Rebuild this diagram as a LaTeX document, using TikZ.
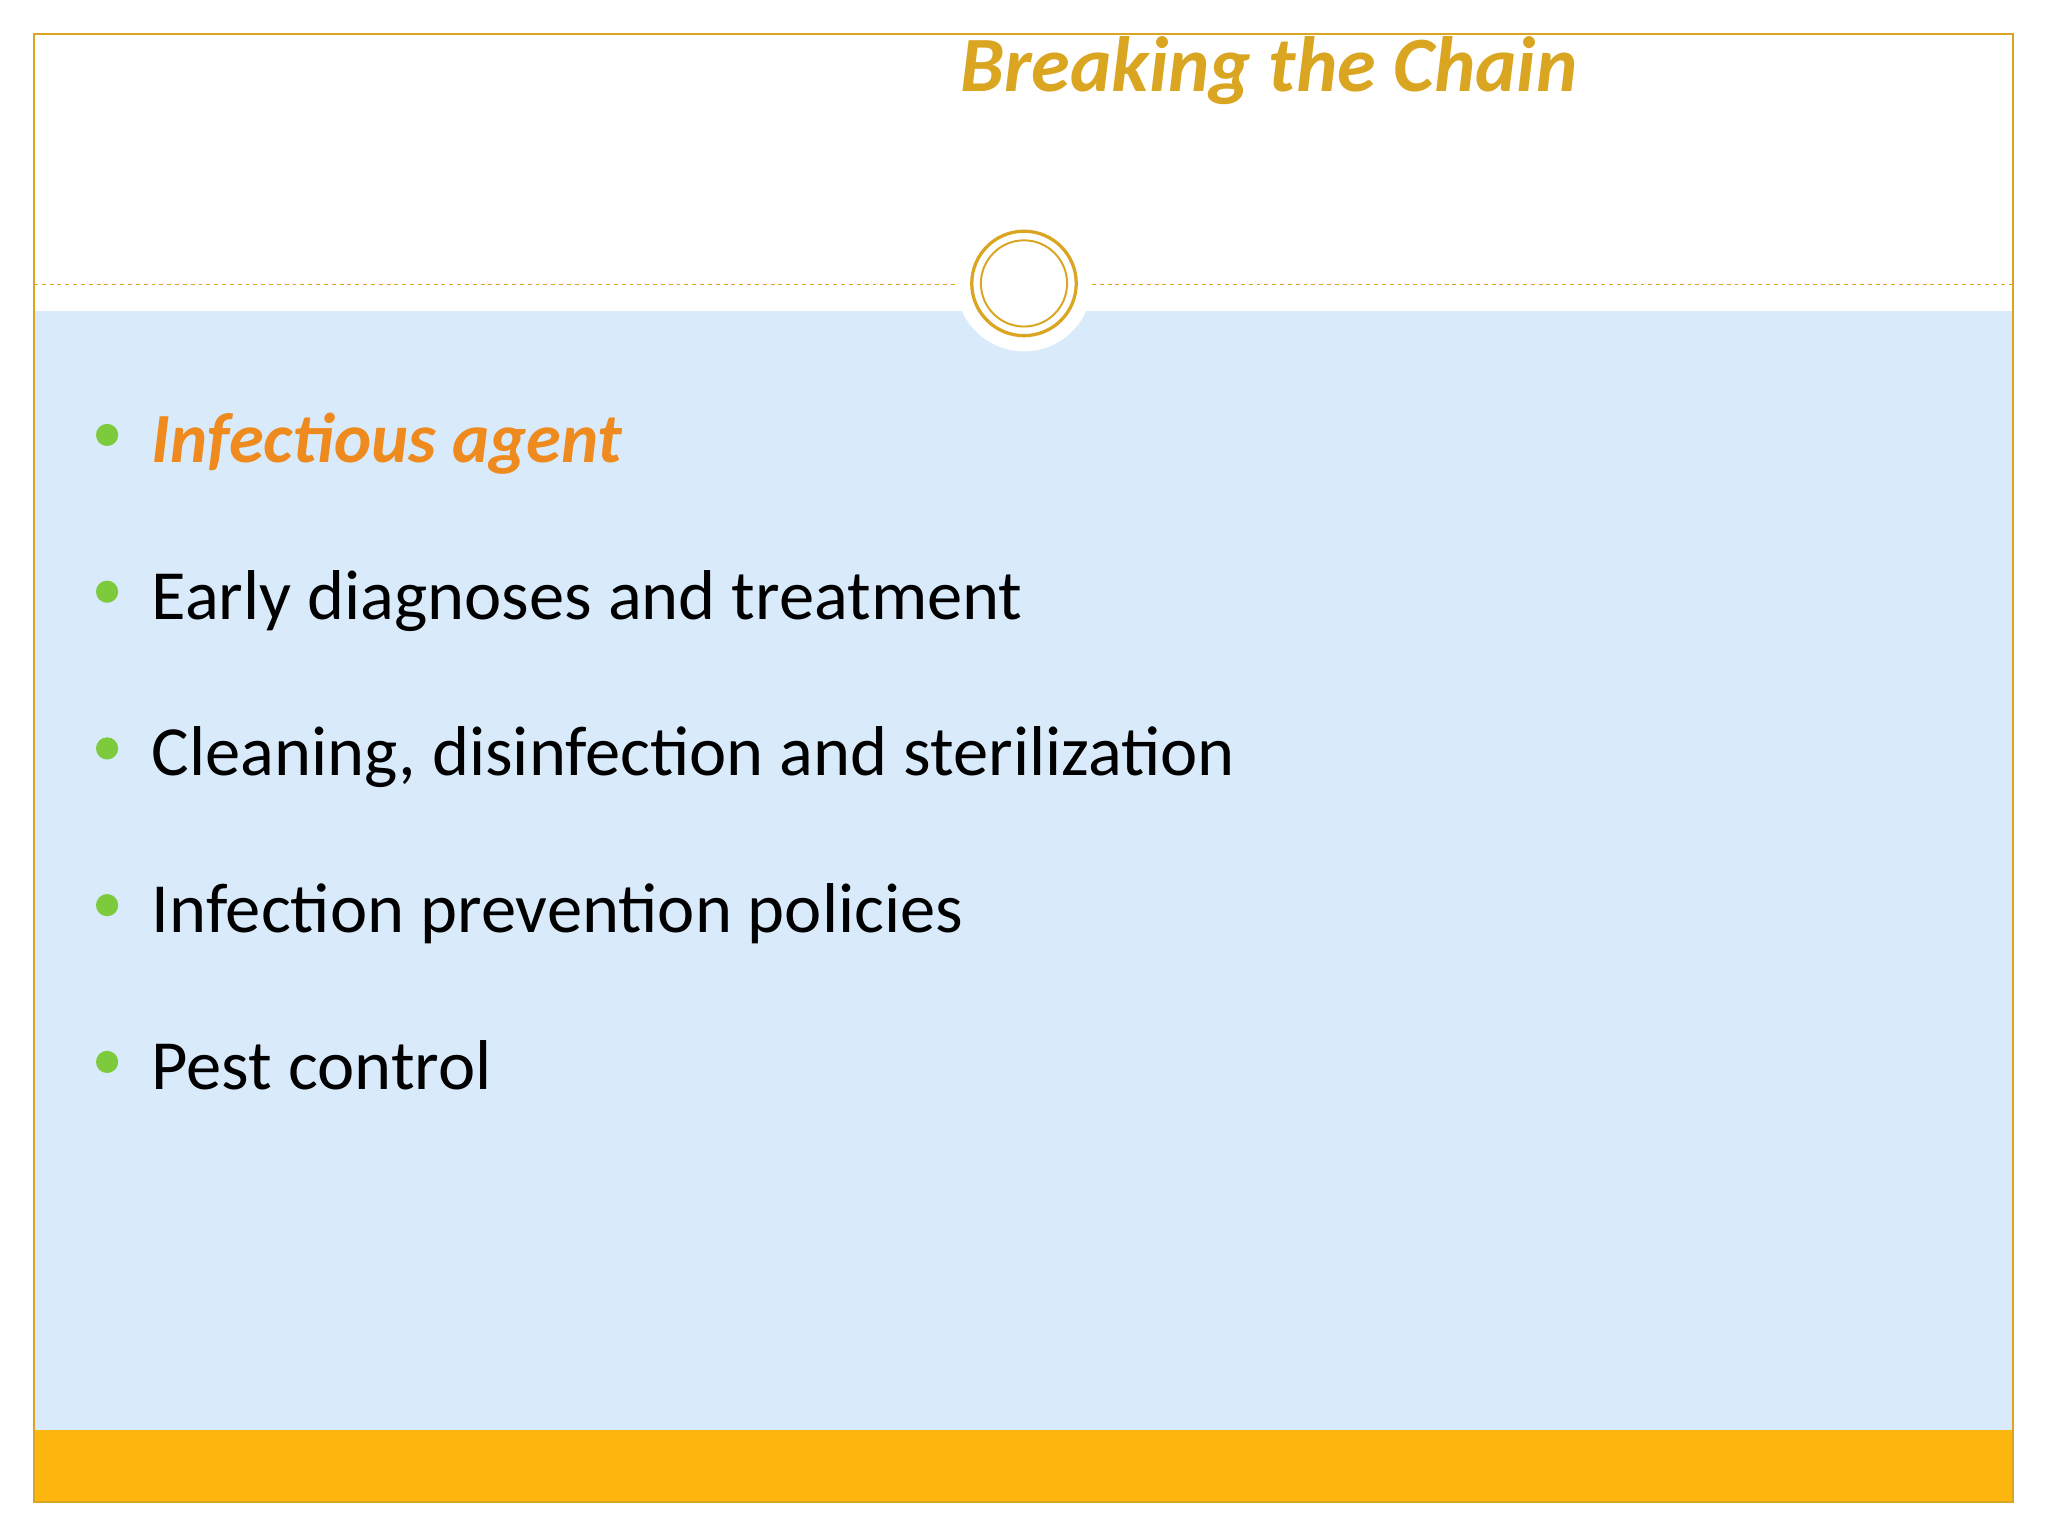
\documentclass[tikz,border=0pt]{standalone}
\usepackage{fontspec}
\setmainfont{Carlito}
\definecolor{gold}{HTML}{DAA520}
\definecolor{lblue}{HTML}{D9EAFB}
\definecolor{obar}{HTML}{FDB60D}
\definecolor{bgreen}{HTML}{7DCB3C}
\definecolor{oitem}{HTML}{EE8A1E}
\begin{document}
\begin{tikzpicture}[x=1pt,y=-1pt,
  item/.style={anchor=base west,inner sep=0pt,font=\fontsize{54}{60}\selectfont},
  dot/.style={circle,fill=bgreen,inner sep=0pt,minimum size=17pt}]
\useasboundingbox (0,0) rectangle (1568,1176);
\fill[white] (0,0) rectangle (1568,1176);
\fill[lblue] (26,238) rectangle (1541,1095);
\fill[obar] (26,1095) rectangle (1541,1150);
\draw[gold,line width=1.2pt] (26,26) rectangle (1541,1150);
\coordinate (c) at (784,217);
\fill[white] (c) circle (52);
\draw[gold,dashed,line width=0.8pt] (26,218) -- (733,218) (836,218) -- (1541,218);
\draw[gold,line width=2.5pt] (c) circle (40);
\draw[gold,line width=1.5pt] (c) circle (33);
\node[anchor=base west,inner sep=0pt,text=gold,font=\fontsize{60}{66}\selectfont\bfseries\itshape] (t) at (735,70) {Breaking the Chain};
\foreach \y/\txt/\n in {354/{\color{oitem}\bfseries\itshape Infectious agent}/a,
  474/{Early diagnoses and treatment}/b,
  594/{Cleaning, disinfection and sterilization}/c,
  714/{Infection prevention policies}/d,
  834/{Pest control}/e}{
  \node[dot] (d\n) at (82,\y-21) {};
  \node[item] (i\n) at (116,\y) {\txt};
}
\end{tikzpicture}
\end{document}
